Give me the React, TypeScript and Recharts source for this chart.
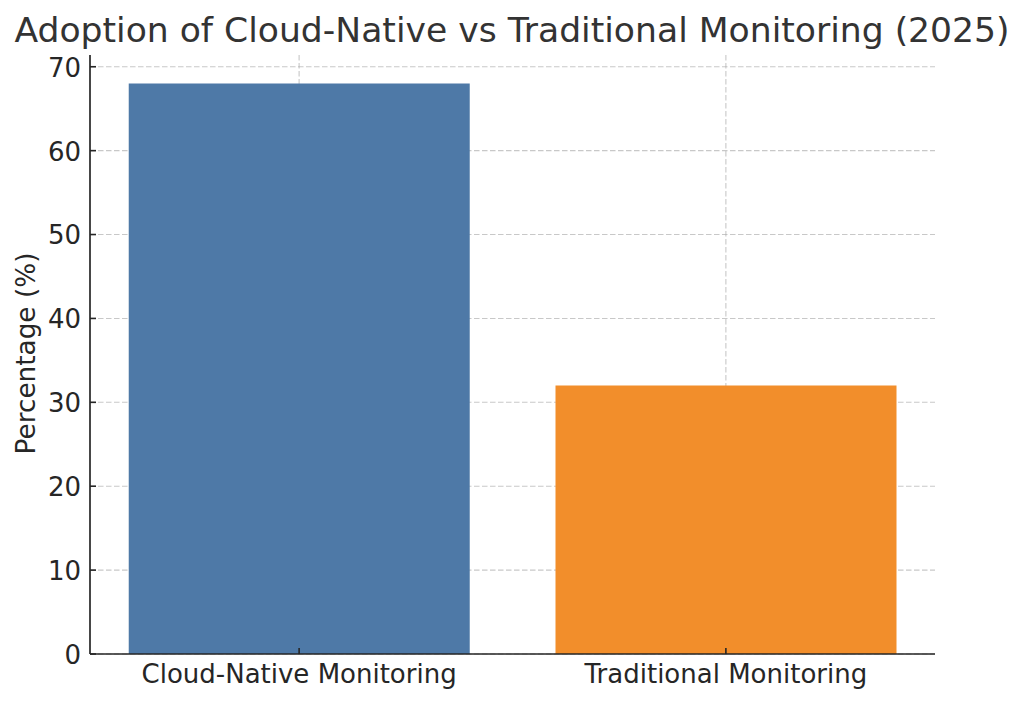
import { BarChart, Bar, Cell, XAxis, YAxis, CartesianGrid } from "recharts";

const categories = ["Cloud-Native Monitoring", "Traditional Monitoring"];
const adoption = [68, 32];
const barColors = ["#4e79a7", "#f28e2b"];
const yTicks = [0, 10, 20, 30, 40, 50, 60, 70];
const xTicks = [0, 1];

const data = categories.map((name, i) => ({ idx: i, name, value: adoption[i] }));

const FONT = "DejaVu Sans";
const INK = "#262626";
const TICK_FONT = 26;

function YTick(props: any) {
  const { x, y, payload } = props;
  return (
    <g>
      <line x1={x + 9} x2={x + 15} y1={y} y2={y} stroke={INK} strokeWidth={1.6} />
      <text x={x} y={y} dy="0.38em" textAnchor="end" fontFamily={FONT} fontSize={TICK_FONT} fill={INK}>
        {payload.value}
      </text>
    </g>
  );
}

function XTick(props: any) {
  const { x, y, payload } = props;
  return (
    <g>
      <line x1={x} x2={x} y1={y - 11} y2={y - 17} stroke={INK} strokeWidth={1.6} />
      <text x={x} y={y} dy="0.7em" textAnchor="middle" fontFamily={FONT} fontSize={TICK_FONT} fill={INK}>
        {categories[payload.value]}
      </text>
    </g>
  );
}

function YLabel(props: any) {
  const { viewBox } = props;
  const cy = viewBox.y + viewBox.height / 2 - 1;
  return (
    <text
      x={35}
      y={cy}
      transform={`rotate(-90 35 ${cy})`}
      textAnchor="middle"
      fontFamily={FONT}
      fontSize={26.3}
      fill={INK}
    >
      Percentage (%)
    </text>
  );
}

export default function App() {
  return (
    <div style={{ position: "absolute", left: 0, top: 0, width: 1024, height: 702, background: "#fff" }}>
      <svg width={1024} height={60} style={{ position: "absolute", left: 0, top: 0 }}>
        <text x={512} y={42} textAnchor="middle" fontFamily={FONT} fontSize={34.6} fill="#333333">
          Adoption of Cloud-Native vs Traditional Monitoring (2025)
        </text>
      </svg>
      <div style={{ position: "absolute", left: 0, top: 0 }}>
        <BarChart width={1024} height={702} data={data} margin={{ top: 55, right: 89, left: 0, bottom: 0 }}>
          <XAxis
            type="number"
            dataKey="idx"
            domain={[-0.49, 1.49]}
            ticks={xTicks}
            allowDataOverflow
            height={48}
            tickSize={0}
            tickMargin={11}
            tick={<XTick />}
            axisLine={{ stroke: INK, strokeWidth: 1.7 }}
            tickLine={false}
          />
          <YAxis
            type="number"
            domain={[0, 71.4]}
            ticks={yTicks}
            allowDataOverflow
            width={90}
            tickSize={0}
            tickMargin={9}
            tick={<YTick />}
            axisLine={{ stroke: INK, strokeWidth: 1.7 }}
            tickLine={false}
            label={<YLabel />}
          />
          <Bar dataKey="value" barSize={341} isAnimationActive={false}>
            {data.map((d, i) => (
              <Cell key={d.name} fill={barColors[i]} />
            ))}
          </Bar>
          {/* grid only at the ticks, no frame on the top/right edges */}
          <CartesianGrid
            syncWithTicks
            stroke="#b0b0b0"
            strokeOpacity={0.7}
            strokeDasharray="5.5 2.5"
            strokeWidth={1.1}
          />
        </BarChart>
      </div>
    </div>
  );
}
